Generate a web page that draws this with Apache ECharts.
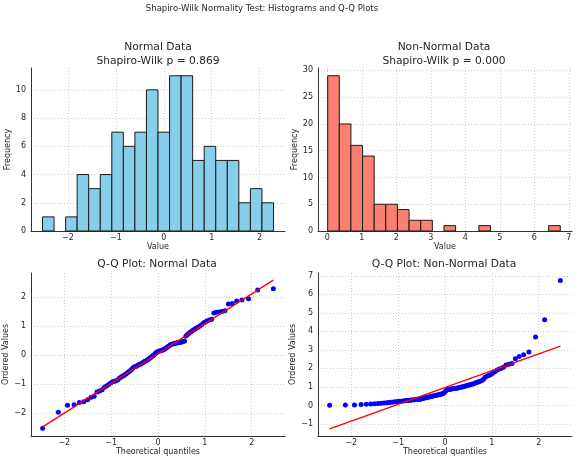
<!DOCTYPE html>
<html><head><meta charset="utf-8">
<script src="https://cdn.jsdelivr.net/npm/echarts@6/dist/echarts.min.js"></script>
<style>html,body{margin:0;padding:0;background:#fff}#c{width:576px;height:462px}</style>
</head><body><div id="c"></div>
<script>
const suptitle = 'Shapiro-Wilk Normality Test: Histograms and Q-Q Plots';
const panelTitles = ['Normal Data', 'Non-Normal Data'];
const pValues = ['0.869', '0.000'];
const qqTitles = ['Q-Q Plot: Normal Data', 'Q-Q Plot: Non-Normal Data'];

// histogram counts (20 bins each) and data range spanned by the bins
const normalCounts = [1,0,1,4,3,4,7,6,7,10,7,11,11,5,6,5,5,2,3,2];
const normalBinRange = [-2.53, 2.29];
const nonNormalCounts = [29,20,16,14,5,5,4,2,2,0,1,0,0,1,0,0,0,0,0,1];
const nonNormalBinRange = [0.01, 6.75];

// Q-Q plot: theoretical quantiles (n = 100) and ordered sample values
const theoreticalQuantiles = [
-2.4612,-2.1264,-1.9316,-1.7906,-1.6782,-1.5839,-1.5018,-1.4288,-1.3626,-1.3020,
-1.2458,-1.1933,-1.1438,-1.0971,-1.0525,-1.0100,-0.9693,-0.9301,-0.8923,-0.8556,
-0.8202,-0.7857,-0.7521,-0.7194,-0.6874,-0.6561,-0.6254,-0.5954,-0.5658,-0.5367,
-0.5081,-0.4798,-0.4521,-0.4245,-0.3974,-0.3705,-0.3438,-0.3174,-0.2913,-0.2653,
-0.2395,-0.2139,-0.1884,-0.1631,-0.1378,-0.1126,-0.0875,-0.0625,-0.0375,-0.0125,
0.0125,0.0375,0.0625,0.0875,0.1126,0.1378,0.1631,0.1884,0.2139,0.2395,
0.2653,0.2913,0.3174,0.3438,0.3705,0.3974,0.4245,0.4521,0.4798,0.5081,
0.5367,0.5658,0.5954,0.6254,0.6561,0.6874,0.7194,0.7521,0.7857,0.8202,
0.8556,0.8923,0.9301,0.9693,1.0100,1.0525,1.0971,1.1438,1.1933,1.2458,
1.3020,1.3626,1.4288,1.5018,1.5839,1.6782,1.7906,1.9316,2.1264,2.4612];
const normalOrdered = [
-2.53,-1.98,-1.74,-1.72,-1.64,-1.62,-1.55,-1.46,-1.43,-1.28,
-1.25,-1.20,-1.12,-1.07,-1.02,-0.97,-0.93,-0.91,-0.89,-0.86,
-0.80,-0.76,-0.73,-0.70,-0.66,-0.62,-0.58,-0.55,-0.50,-0.45,
-0.42,-0.40,-0.38,-0.35,-0.33,-0.31,-0.29,-0.26,-0.23,-0.21,
-0.19,-0.16,-0.13,-0.10,-0.06,-0.03,0.00,0.04,0.08,0.11,
0.13,0.14,0.15,0.16,0.18,0.20,0.23,0.26,0.29,0.32,
0.35,0.37,0.38,0.39,0.40,0.41,0.42,0.43,0.44,0.45,
0.46,0.48,0.65,0.70,0.74,0.78,0.82,0.86,0.89,0.93,
0.96,1.00,1.04,1.10,1.14,1.18,1.21,1.23,1.45,1.47,
1.48,1.50,1.53,1.76,1.78,1.86,1.90,1.94,2.24,2.29];
const nonNormalOrdered = [
0.01,0.02,0.03,0.05,0.06,0.08,0.09,0.11,0.12,0.13,
0.15,0.16,0.17,0.19,0.20,0.21,0.22,0.23,0.24,0.25,
0.26,0.27,0.28,0.29,0.30,0.31,0.32,0.33,0.335,0.34,
0.35,0.37,0.39,0.41,0.42,0.44,0.46,0.47,0.49,0.50,
0.52,0.53,0.55,0.56,0.58,0.59,0.61,0.63,0.65,0.70,
0.78,0.83,0.86,0.87,0.88,0.89,0.90,0.91,0.92,0.93,
0.94,0.96,0.97,0.99,1.00,1.02,1.04,1.06,1.08,1.10,
1.12,1.14,1.16,1.19,1.22,1.25,1.28,1.31,1.34,1.42,
1.52,1.58,1.62,1.66,1.72,1.80,1.88,1.95,2.00,2.06,
2.18,2.22,2.26,2.52,2.64,2.74,2.88,3.70,4.62,6.75];
// fitted reference lines [slope, intercept]
const normalFit = [1.03, 0.05];
const nonNormalFit = [0.908, 0.965];

const FONT = 'DejaVu Sans';
const TXT = '#262626';
const minus = v => String(v).replace('-', '\u2212');

function binRows(counts, range) {
  const w = (range[1] - range[0]) / counts.length;
  return counts.map((c, i) => [range[0] + i * w, range[0] + (i + 1) * w, c]);
}
function histRender(color) {
  return function (params, api) {
    const h = api.value(2);
    if (h <= 0) return null;
    const p0 = api.coord([api.value(0), 0]);
    const p1 = api.coord([api.value(1), h]);
    return { type: 'rect',
      shape: { x: p0[0], y: p1[1], width: p1[0] - p0[0], height: p0[1] - p1[1] },
      style: { fill: color, stroke: '#1a1a1a', lineWidth: 1 } };
  };
}
function qqPairs(ys) { return theoreticalQuantiles.map((x, i) => [x, ys[i]]); }
function fitLine(fit) {
  const a = theoreticalQuantiles[0], b = theoreticalQuantiles[theoreticalQuantiles.length - 1];
  return [[a, fit[1] + fit[0] * a], [b, fit[1] + fit[0] * b]];
}

function axis(idx, opt) {
  return Object.assign({
    type: 'value', gridIndex: idx,
    nameLocation: 'middle',
    nameTextStyle: { fontFamily: FONT, fontSize: 8, color: TXT },
    axisLine: { show: true, onZero: false, lineStyle: { color: '#333', width: 1 } },
    axisTick: { show: false },
    axisLabel: { fontFamily: FONT, fontSize: 8, color: TXT, formatter: minus },
    splitLine: { show: true, showMinLine: false, showMaxLine: false,
      lineStyle: { color: '#cfcfcf', type: [1, 2], width: 1 } }
  }, opt);
}
function lbl(extra) {
  return Object.assign({ fontFamily: FONT, fontSize: 8, color: TXT, formatter: minus }, extra);
}

const grids = [
  { left: 31, top: 68, width: 254, height: 163 },
  { left: 318, top: 68, width: 254, height: 163 },
  { left: 31, top: 273, width: 254, height: 163 },
  { left: 318, top: 273, width: 254, height: 163 }
];

const xAxes = [
  axis(0, { min: -2.77, max: 2.53, minInterval: 1, maxInterval: 1, name: 'Value', nameGap: 12,
    axisLabel: lbl({ margin: 3, showMinLabel: false, showMaxLabel: false }) }),
  axis(1, { min: -0.27, max: 7.09, minInterval: 1, maxInterval: 1, name: 'Value', nameGap: 12,
    axisLabel: lbl({ margin: 3, showMinLabel: false, showMaxLabel: false }) }),
  axis(2, { min: -2.71, max: 2.71, minInterval: 1, maxInterval: 1, name: 'Theoretical quantiles', nameGap: 12,
    axisLabel: lbl({ margin: 3, showMinLabel: false, showMaxLabel: false }) }),
  axis(3, { min: -2.71, max: 2.71, minInterval: 1, maxInterval: 1, name: 'Theoretical quantiles', nameGap: 12,
    axisLabel: lbl({ margin: 3, showMinLabel: false, showMaxLabel: false }) })
];
const yAxes = [
  axis(0, { min: 0, max: 11.55, interval: 2, name: 'Frequency', nameGap: 17,
    axisLabel: lbl({ margin: 5, showMaxLabel: false }) }),
  axis(1, { min: 0, max: 30.45, interval: 5, name: 'Frequency', nameGap: 17,
    axisLabel: lbl({ margin: 5, showMaxLabel: false }) }),
  axis(2, { min: -2.8, max: 2.83, minInterval: 1, maxInterval: 1, name: 'Ordered Values', nameGap: 18,
    axisLabel: lbl({ margin: 5, showMinLabel: false, showMaxLabel: false }) }),
  axis(3, { min: -1.65, max: 7.15, minInterval: 1, maxInterval: 1, name: 'Ordered Values', nameGap: 18,
    axisLabel: lbl({ margin: 5, showMinLabel: false, showMaxLabel: false }) })
];

function txt(x, y, s, size) {
  return { type: 'text', x: x, y: y, silent: true,
    style: { text: s, fontFamily: FONT, fontSize: size, fill: TXT, align: 'center', verticalAlign: 'middle' } };
}

const option = {
  animation: false,
  backgroundColor: '#ffffff',
  graphic: [
    txt(262, 9, suptitle, 8.5),
    txt(158, 47, panelTitles[0], 10.7),
    txt(158, 61, 'Shapiro-Wilk p = ' + pValues[0], 10.7),
    txt(444, 47, panelTitles[1], 10.7),
    txt(444, 61, 'Shapiro-Wilk p = ' + pValues[1], 10.7),
    txt(157, 264, qqTitles[0], 10.7),
    txt(444, 264, qqTitles[1], 10.7)
  ],
  grid: grids,
  xAxis: xAxes,
  yAxis: yAxes,
  series: [
    { type: 'custom', xAxisIndex: 0, yAxisIndex: 0, data: binRows(normalCounts, normalBinRange),
      encode: { x: [0, 1], y: 2 }, renderItem: histRender('#87CEEB') },
    { type: 'custom', xAxisIndex: 1, yAxisIndex: 1, data: binRows(nonNormalCounts, nonNormalBinRange),
      encode: { x: [0, 1], y: 2 }, renderItem: histRender('#FA8072') },
    { type: 'scatter', xAxisIndex: 2, yAxisIndex: 2, data: qqPairs(normalOrdered),
      symbolSize: 5, itemStyle: { color: '#0000ff', opacity: 1 } },
    { type: 'line', xAxisIndex: 2, yAxisIndex: 2, data: fitLine(normalFit), showSymbol: false,
      lineStyle: { color: '#ff0000', width: 1.3 }, z: 3 },
    { type: 'scatter', xAxisIndex: 3, yAxisIndex: 3, data: qqPairs(nonNormalOrdered),
      symbolSize: 5, itemStyle: { color: '#0000ff', opacity: 1 } },
    { type: 'line', xAxisIndex: 3, yAxisIndex: 3, data: fitLine(nonNormalFit), showSymbol: false,
      lineStyle: { color: '#ff0000', width: 1.3 }, z: 3 }
  ]
};
const chart = echarts.init(document.getElementById('c'), null, { renderer: 'canvas' });
chart.setOption(option);
</script>
</body></html>
